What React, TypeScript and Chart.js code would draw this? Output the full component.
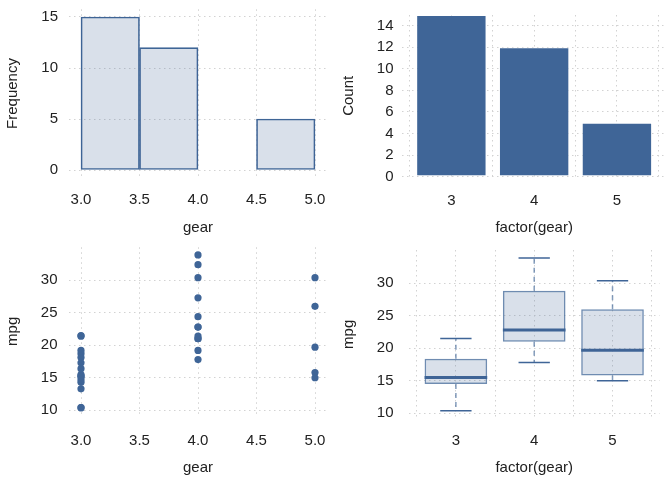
import { useEffect, useRef } from "react";
import { Chart, registerables } from "chart.js";

Chart.register(...registerables);

// mtcars: gear and mpg
const gearValues = [3, 4, 5];
const gearCounts = [15, 12, 5];

const histBinStart = [3.0, 3.5, 4.0, 4.5];
const histBinEnd = [3.5, 4.0, 4.5, 5.0];
const histCounts = [15, 12, 0, 5];

const mpgGear3 = [21.4, 18.7, 18.1, 14.3, 16.4, 17.3, 15.2, 10.4, 10.4, 14.7, 21.5, 15.5, 15.2, 13.3, 19.2];
const mpgGear4 = [21.0, 21.0, 22.8, 24.4, 22.8, 19.2, 17.8, 32.4, 30.4, 33.9, 27.3, 21.4];
const mpgGear5 = [26.0, 30.4, 15.8, 19.7, 15.0];

const boxMin = [10.4, 17.8, 15.0];
const boxQ1 = [14.5, 21.0, 15.8];
const boxMedian = [15.5, 22.8, 19.7];
const boxQ3 = [18.4, 28.85, 26.0];
const boxMax = [21.5, 33.9, 30.4];

const gearTicks = [3.0, 3.5, 4.0, 4.5, 5.0];
const freqTicks = [0, 5, 10, 15];
const countTicks = [0, 2, 4, 6, 8, 10, 12, 14];
const mpgTicks = [10, 15, 20, 25, 30];
const factorGridTicks = [2.5, 3, 3.5, 4, 4.5, 5, 5.5];

const W = 336;
const H = 240;
const BLUE = "#3f6597";
const TEXT = "#222222";
const GRID = "#d2d2d2";
const DOTS = [1.5, 3.5];
const FONT = { family: "'Liberation Sans', Arial, sans-serif", size: 15 };

Chart.defaults.font.family = FONT.family;
Chart.defaults.font.size = FONT.size;
Chart.defaults.color = TEXT;

interface Frame {
  left: number; // panel left
  right: number; // panel right
  top: number;
  bottom: number;
  yPad: number;
  xPad: number;
}

function frameLayout(f: Frame) {
  return { padding: { left: 0, top: f.top, right: W - f.right, bottom: 0 } };
}

function yAxis(f: Frame, min: number, max: number, ticks: number[], title: string) {
  return {
    type: "linear",
    min,
    max,
    afterBuildTicks: (s: any) => {
      s.ticks = ticks.map((v) => ({ value: v }));
    },
    afterFit: (s: any) => {
      s.width = f.left;
      s.paddingTop = 0;
      s.paddingBottom = 0;
    },
    grid: { color: GRID, lineWidth: 1, drawTicks: false },
    border: { display: false, dash: DOTS },
    ticks: { padding: f.yPad, color: TEXT, font: FONT, autoSkip: false },
    title: { display: true, text: title, color: TEXT, font: FONT, padding: { top: 3.5, bottom: 0 } },
  };
}

function xAxis(
  f: Frame,
  min: number,
  max: number,
  ticks: number[],
  title: string,
  format: (v: number) => string,
  showGrid: boolean
) {
  return {
    type: "linear",
    min,
    max,
    offset: false,
    afterBuildTicks: (s: any) => {
      s.ticks = ticks.map((v) => ({ value: v }));
    },
    afterFit: (s: any) => {
      s.height = H - f.bottom;
      s.paddingLeft = 0;
      s.paddingRight = 0;
    },
    grid: { display: showGrid, offset: false, color: GRID, lineWidth: 1, drawTicks: false },
    border: { display: false, dash: DOTS },
    ticks: {
      padding: f.xPad,
      color: TEXT,
      font: FONT,
      autoSkip: false,
      maxRotation: 0,
      callback: (v: any) => format(Number(v)),
    },
    title: { display: true, text: title, color: TEXT, font: FONT, padding: { top: 0, bottom: 3 } },
  };
}

function minorGridAxis(min: number, max: number, ticks: number[]) {
  return {
    type: "linear",
    position: "top",
    min,
    max,
    offset: false,
    afterBuildTicks: (s: any) => {
      s.ticks = ticks.map((v) => ({ value: v }));
    },
    afterFit: (s: any) => {
      s.height = 0;
      s.paddingLeft = 0;
      s.paddingRight = 0;
    },
    grid: { offset: false, color: GRID, lineWidth: 1, drawTicks: false },
    border: { display: false, dash: DOTS },
    ticks: { display: false },
  };
}

const baseOptions = {
  responsive: false,
  animation: false as const,
  plugins: { legend: { display: false }, tooltip: { enabled: false } },
};

function histConfig(): any {
  const f: Frame = { left: 69.3, right: 326.7, top: 9.35, bottom: 177.65, yPad: 11.3, xPad: 13.6 };
  const bins = histBinStart
    .map((s, i) => ({ x: (s + histBinEnd[i]) / 2, y: histCounts[i] }))
    .filter((b) => b.y > 0);
  return {
    type: "bar",
    data: {
      datasets: [
        {
          data: bins,
          backgroundColor: "rgba(63,101,151,0.2)",
          borderColor: BLUE,
          borderWidth: 1,
          borderSkipped: false,
          barPercentage: 1,
          categoryPercentage: 1,
        },
      ],
    },
    options: {
      ...baseOptions,
      layout: frameLayout(f),
      scales: {
        x: xAxis(f, 2.9, 5.1, gearTicks, "gear", (v) => v.toFixed(1), true),
        y: yAxis(f, -0.75, 15.75, freqTicks, "Frequency"),
      },
    },
  };
}

function countConfig(): any {
  const f: Frame = { left: 65.7, right: 330.6, top: 14.9, bottom: 176.7, yPad: 8.2, xPad: 15.3 };
  return {
    type: "bar",
    data: {
      datasets: [
        {
          data: gearValues.map((g, i) => ({ x: g, y: gearCounts[i] })),
          backgroundColor: BLUE,
          borderColor: "rgba(255,255,255,0.45)",
          borderWidth: 1,
          borderSkipped: false,
          barPercentage: 0.85,
          categoryPercentage: 1,
        },
      ],
    },
    options: {
      ...baseOptions,
      layout: frameLayout(f),
      scales: {
        x: xAxis(f, 2.4, 5.6, gearValues, "factor(gear)", (v) => String(v), false),
        xGrid: minorGridAxis(2.4, 5.6, factorGridTicks),
        y: yAxis(f, 0, 15, countTicks, "Count"),
      },
    },
  };
}

function scatterConfig(): any {
  const f: Frame = { left: 69.3, right: 326.7, top: 7.3, bottom: 175.3, yPad: 11.8, xPad: 16.7 };
  const groups = [mpgGear3, mpgGear4, mpgGear5];
  const points = groups.flatMap((vals, i) => vals.map((m) => ({ x: gearValues[i], y: m })));
  return {
    type: "scatter",
    data: {
      datasets: [
        {
          data: points,
          backgroundColor: BLUE,
          borderWidth: 0,
          pointRadius: 3.6,
        },
      ],
    },
    options: {
      ...baseOptions,
      layout: frameLayout(f),
      scales: {
        x: xAxis(f, 2.9, 5.1, gearTicks, "gear", (v) => v.toFixed(1), true),
        y: yAxis(f, 9.225, 35.075, mpgTicks, "mpg"),
      },
    },
  };
}

function segment(x0: number, y0: number, x1: number, y1: number, color: string, width: number, dash: number[] = []) {
  return {
    type: "line",
    data: [
      { x: x0, y: y0 },
      { x: x1, y: y1 },
    ],
    borderColor: color,
    borderWidth: width,
    borderDash: dash,
    pointRadius: 0,
    fill: false,
  };
}

function boxConfig(): any {
  const f: Frame = { left: 72.9, right: 323.5, top: 10.3, bottom: 178.3, yPad: 15.4, xPad: 13.7 };
  const boxHalf = 0.4;
  const capHalf = 0.2;
  const whisker = "rgba(63,101,151,0.65)";
  const lines: any[] = [];
  gearValues.forEach((g, i) => {
    lines.push(segment(g, boxQ3[i], g, boxMax[i], whisker, 1.5, [5, 4]));
    lines.push(segment(g, boxQ1[i], g, boxMin[i], whisker, 1.5, [5, 4]));
    lines.push(segment(g - capHalf, boxMax[i], g + capHalf, boxMax[i], BLUE, 1.5));
    lines.push(segment(g - capHalf, boxMin[i], g + capHalf, boxMin[i], BLUE, 1.5));
    lines.push(segment(g - boxHalf, boxMedian[i], g + boxHalf, boxMedian[i], BLUE, 3));
  });
  return {
    type: "bar",
    data: {
      datasets: [
        {
          data: gearValues.map((g, i) => ({ x: g, y: [boxQ1[i], boxQ3[i]] })),
          backgroundColor: "rgba(63,101,151,0.2)",
          borderColor: "rgba(63,101,151,0.75)",
          borderWidth: 1.5,
          borderSkipped: false,
          barPercentage: boxHalf * 2,
          categoryPercentage: 1,
        },
        ...lines,
      ],
    },
    options: {
      ...baseOptions,
      layout: frameLayout(f),
      scales: {
        x: xAxis(f, 2.4, 5.6, gearValues, "factor(gear)", (v) => String(v), false),
        xGrid: minorGridAxis(2.4, 5.6, factorGridTicks),
        y: yAxis(f, 9.225, 35.075, mpgTicks, "mpg"),
      },
    },
  };
}

function Panel({ left, top, config }: { left: number; top: number; config: () => any }) {
  const canvasRef = useRef<HTMLCanvasElement>(null);

  useEffect(() => {
    if (!canvasRef.current) return;
    const chart = new Chart(canvasRef.current, config());
    return () => chart.destroy();
  }, [config]);

  return (
    <div style={{ position: "absolute", left, top, width: W, height: H }}>
      <canvas ref={canvasRef} width={W} height={H} style={{ width: W, height: H, display: "block" }} />
    </div>
  );
}

export default function App() {
  return (
    <div style={{ position: "absolute", left: 0, top: 0, width: 2 * W, height: 2 * H, background: "#fff" }}>
      <Panel left={0} top={0} config={histConfig} />
      <Panel left={W} top={0} config={countConfig} />
      <Panel left={0} top={H} config={scatterConfig} />
      <Panel left={W} top={H} config={boxConfig} />
    </div>
  );
}
